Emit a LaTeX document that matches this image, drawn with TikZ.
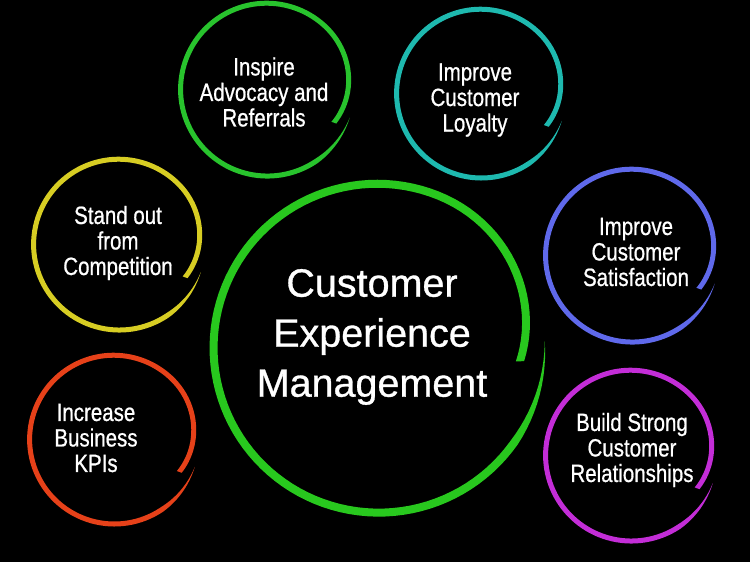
\documentclass[tikz,border=0pt]{standalone}
\usepackage{fontspec}
\setmainfont{Liberation Sans}
\newfontfamily\hubfont{Liberation Sans}[FakeBold=0.8]
\newfontfamily\spokefont{Liberation Sans}[FakeStretch=0.82,FakeBold=0.7]
\definecolor{hubgreen}{RGB}{40,200,30}
\definecolor{leafgreen}{RGB}{40,195,45}
\definecolor{teal}{RGB}{30,185,175}
\definecolor{violetblue}{RGB}{95,105,235}
\definecolor{magenta}{RGB}{195,45,215}
\definecolor{redorange}{RGB}{230,65,25}
\definecolor{mustard}{RGB}{215,205,35}
\tikzset{
  hub/.style={align=center, text=white, inner sep=0pt, font=\hubfont\fontsize{39.5}{50}\selectfont},
  spoke/.style={align=center, text=white, inner sep=0pt, font=\spokefont\fontsize{25}{25.5}\selectfont},
}
% brush ring: #1 centre, #2 radius, #3 start angle, #4 width, #5 colour
\newcommand\brushring[5]{%
  \fill[#5, shift={(#1)}]
    plot[domain=0:1, samples=120, variable=\t]
      ({#3+368*\t}:{#2*(1+0.03*(1-\t)-0.12*pow(max(0,(\t-0.8)/0.2),2))+#4/2*min(1,\t/0.1)})
    -- plot[domain=1:0, samples=120, variable=\t]
      ({#3+368*\t}:{#2*(1+0.03*(1-\t)-0.12*pow(max(0,(\t-0.8)/0.2),2))-#4/2*min(1,\t/0.1)})
    -- cycle;}
\begin{document}
\begin{tikzpicture}[x=1pt,y=-1pt]
\fill[black] (0,0) rectangle (750,562);
% centres of the rings
\coordinate (cHub) at (378,347);
\coordinate (cInspire) at (267,89);
\coordinate (cLoyalty) at (481,93);
\coordinate (cStand) at (119,244);
\coordinate (cSatisf) at (632,255);
\coordinate (cKpi) at (114,439);
\coordinate (cRelation) at (631,455);
% rings
\brushring{cHub}{162}{-2}{8}{hubgreen}
\brushring{cInspire}{85}{19}{5}{leafgreen}
\brushring{cLoyalty}{83}{19}{5}{teal}
\brushring{cStand}{84}{19}{5}{mustard}
\brushring{cSatisf}{85}{19}{5}{violetblue}
\brushring{cKpi}{83}{19}{5}{redorange}
\brushring{cRelation}{84}{19}{5}{magenta}
% labels
\node[hub] (hub) at (372,337) {Customer\\Experience\\Management};
\node[spoke] (inspire) at (264,92) {Inspire\\Advocacy and\\Referrals};
\node[spoke] (loyalty) at (475,100) {Improve\\Customer\\Loyalty};
\node[spoke] (stand) at (118,243) {Stand out\\from\\Competition};
\node[spoke] (satisf) at (636,252) {Improve\\Customer\\Satisfaction};
\node[spoke] (kpi) at (96,438) {Increase\\Business\\KPIs};
\node[spoke] (relation) at (632,450) {Build Strong\\Customer\\Relationships};
\end{tikzpicture}
\end{document}
